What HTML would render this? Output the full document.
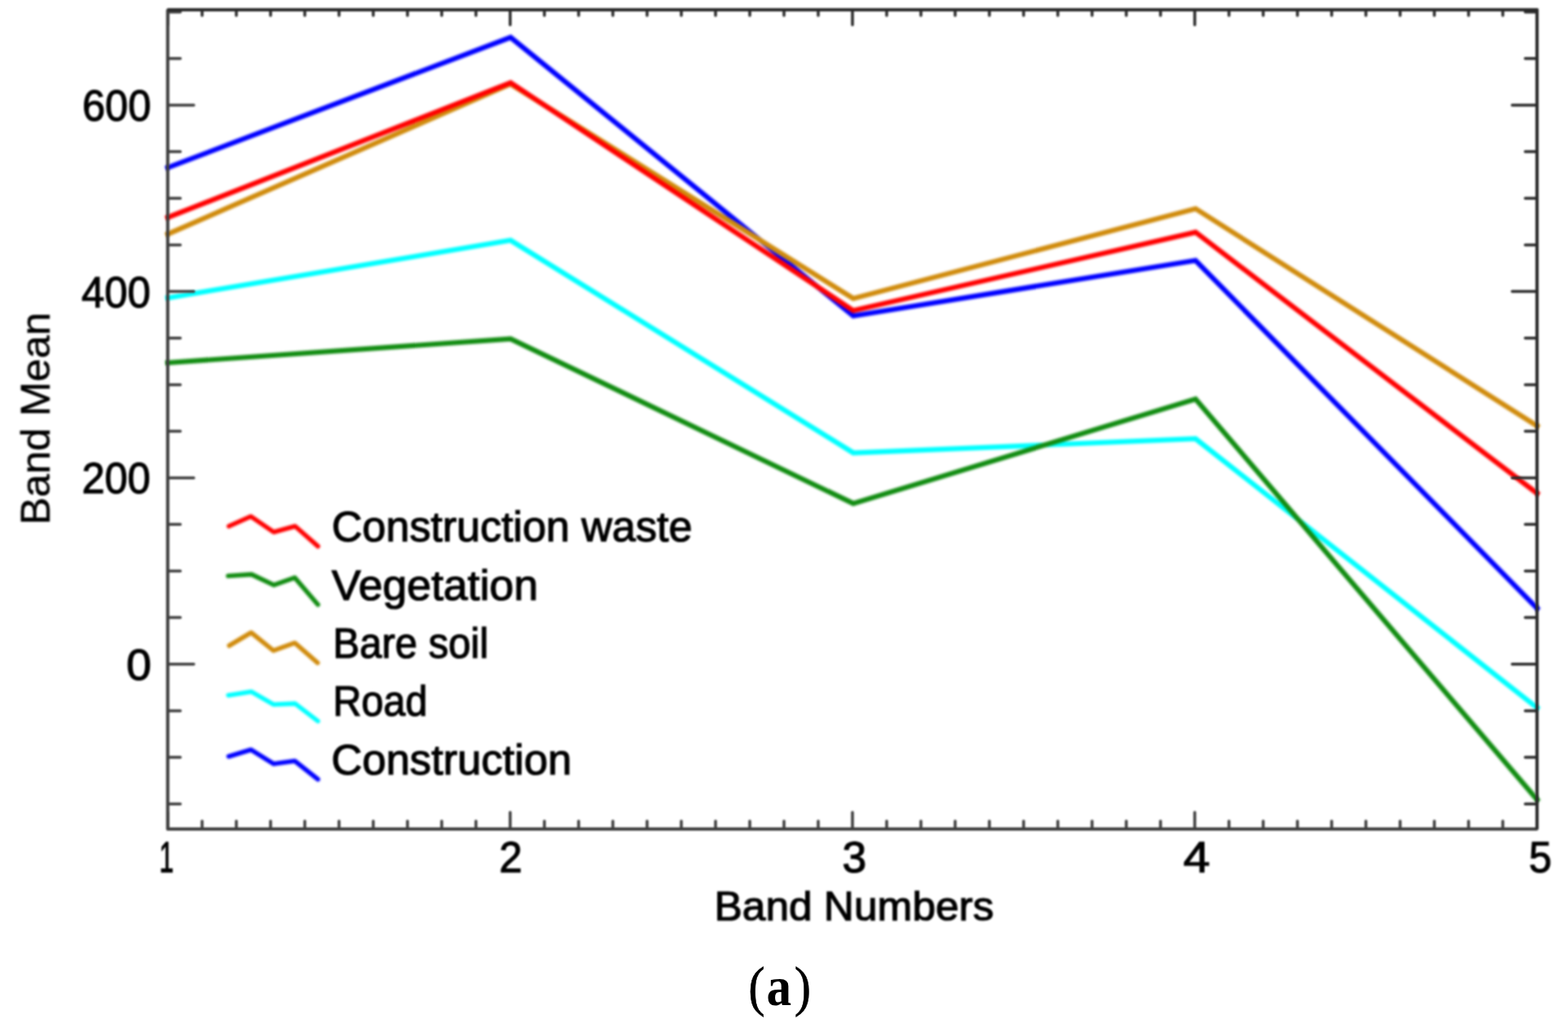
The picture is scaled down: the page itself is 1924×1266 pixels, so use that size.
<!DOCTYPE html>
<html lang="en"><head><meta charset="utf-8"><title>Band Mean vs Band Numbers</title><style>html,body{margin:0;padding:0;background:#fff;overflow:hidden;width:1924px;height:1266px}svg{display:block}</style></head><body>
<svg width="1924" height="1266" viewBox="0 0 1924 1266">
<rect width="1924" height="1266" fill="#fff"/>
<g style="filter:blur(1.5px)">
<g fill="none" stroke-linejoin="miter" stroke-linecap="square" stroke-width="6.2">
<polyline points="206,205.6 626.5,45.8 1047,387.5 1467,319.5 1886,746.2" stroke="#0000ff"/>
<polyline points="206,365.4 626.5,294.8 1047,555.5 1467,538.2 1886,868.2" stroke="#00ffff"/>
<polyline points="206,287.1 626.5,103 1047,366.2 1467,256 1886,522.4" stroke="#d08b0c"/>
<polyline points="206,445 626.5,415.6 1047,617.6 1467,489.5 1886,981" stroke="#118c11"/>
<polyline points="206,266.7 626.5,101.5 1047,381.0 1467,284.9 1886,605.2" stroke="#ff0000"/>
</g>
<g fill="none" stroke-linejoin="round" stroke-linecap="round" stroke-width="5.6">
<polyline points="280.9,645.5 307.8,633.5 335.9,652.7 362.1,645.5 390.1,670.2" stroke="#ff0000"/>
<polyline points="280,706.5 308.6,704.6 336.2,717.7 361.7,708.6 390.1,741.7" stroke="#118c11"/>
<polyline points="281.3,792 308.2,776 335.5,798.2 361.7,788.7 389.7,813.1" stroke="#d08b0c"/>
<polyline points="280.2,852.9 308.6,848.6 335.5,864.2 362.1,863.1 390.1,884.6" stroke="#00ffff"/>
<polyline points="280.6,928 307.8,919.7 335.9,937.1 361.7,933.5 390.1,956" stroke="#0000ff"/>
</g>
</g>
<g style="filter:blur(1.1px)">
<path d="M205.8,986.2h15.5M205.8,929.1h15.5M205.8,871.9h15.5M205.8,814.8h32M205.8,757.6h15.5M205.8,700.5h15.5M205.8,643.3h15.5M205.8,586.2h32M205.8,529.0h15.5M205.8,471.9h15.5M205.8,414.7h15.5M205.8,357.6h32M205.8,300.4h15.5M205.8,243.3h15.5M205.8,186.1h15.5M205.8,129.0h32M205.8,71.8h15.5M205.8,14.7h15.5M206.0,1017v-20.5M248.0,1017v-9.7M290.0,1017v-9.7M332.0,1017v-9.7M374.0,1017v-9.7M416.0,1017v-9.7M458.0,1017v-9.7M500.0,1017v-9.7M542.0,1017v-9.7M584.0,1017v-9.7M626.0,1017v-20.5M668.0,1017v-9.7M710.0,1017v-9.7M752.0,1017v-9.7M794.0,1017v-9.7M836.0,1017v-9.7M878.0,1017v-9.7M920.0,1017v-9.7M962.0,1017v-9.7M1004.0,1017v-9.7M1046.0,1017v-20.5M1088.0,1017v-9.7M1130.0,1017v-9.7M1172.0,1017v-9.7M1214.0,1017v-9.7M1256.0,1017v-9.7M1298.0,1017v-9.7M1340.0,1017v-9.7M1382.0,1017v-9.7M1424.0,1017v-9.7M1466.0,1017v-20.5M1508.0,1017v-9.7M1550.0,1017v-9.7M1592.0,1017v-9.7M1634.0,1017v-9.7M1676.0,1017v-9.7M1718.0,1017v-9.7M1760.0,1017v-9.7M1802.0,1017v-9.7M1844.0,1017v-9.7M1886.0,1017v-20.5" fill="none" stroke="#3e3e3e" stroke-width="3.5" stroke-linecap="round"/>
<path d="M1886,986.2h-14.5M1886,929.1h-14.5M1886,871.9h-14.5M1886,814.8h-30.5M1886,757.6h-14.5M1886,700.5h-14.5M1886,643.3h-14.5M1886,586.2h-30.5M1886,529.0h-14.5M1886,471.9h-14.5M1886,414.7h-14.5M1886,357.6h-30.5M1886,300.4h-14.5M1886,243.3h-14.5M1886,186.1h-14.5M1886,129.0h-30.5M1886,71.8h-14.5M1886,14.7h-14.5M206.0,12.1v18.3M248.0,12.1v6.9M290.0,12.1v6.9M332.0,12.1v6.9M374.0,12.1v6.9M416.0,12.1v6.9M458.0,12.1v6.9M500.0,12.1v6.9M542.0,12.1v6.9M584.0,12.1v6.9M626.0,12.1v18.3M668.0,12.1v6.9M710.0,12.1v6.9M752.0,12.1v6.9M794.0,12.1v6.9M836.0,12.1v6.9M878.0,12.1v6.9M920.0,12.1v6.9M962.0,12.1v6.9M1004.0,12.1v6.9M1046.0,12.1v18.3M1088.0,12.1v6.9M1130.0,12.1v6.9M1172.0,12.1v6.9M1214.0,12.1v6.9M1256.0,12.1v6.9M1298.0,12.1v6.9M1340.0,12.1v6.9M1382.0,12.1v6.9M1424.0,12.1v6.9M1466.0,12.1v18.3M1508.0,12.1v6.9M1550.0,12.1v6.9M1592.0,12.1v6.9M1634.0,12.1v6.9M1676.0,12.1v6.9M1718.0,12.1v6.9M1760.0,12.1v6.9M1802.0,12.1v6.9M1844.0,12.1v6.9M1886.0,12.1v18.3" fill="none" stroke="#2a2a2a" stroke-width="3.5" stroke-linecap="round"/>
<path d="M205.8,12.1V1017H1886" fill="none" stroke="#3e3e3e" stroke-width="4" stroke-linejoin="round"/>
<path d="M205.8,12.1H1886V1017" fill="none" stroke="#2a2a2a" stroke-width="4" stroke-linejoin="round"/>
<g font-family="'Liberation Sans', Arial, sans-serif" fill="#000" stroke="#000" stroke-width="1.2"><text x="101.00" y="147.80" font-size="53.00" textLength="84.23" lengthAdjust="spacingAndGlyphs">600</text><text x="100.00" y="377.10" font-size="53.00" textLength="84.70" lengthAdjust="spacingAndGlyphs">400</text><text x="100.50" y="605.40" font-size="53.00" textLength="84.19" lengthAdjust="spacingAndGlyphs">200</text><text x="155.00" y="833.60" font-size="53.00" textLength="30.74" lengthAdjust="spacingAndGlyphs">0</text><text x="195.50" y="1070.00" font-size="53.00" textLength="17.71" lengthAdjust="spacingAndGlyphs">1</text><text x="612.50" y="1070.00" font-size="53.00" textLength="28.34" lengthAdjust="spacingAndGlyphs">2</text><text x="1033.50" y="1070.00" font-size="53.00" textLength="29.74" lengthAdjust="spacingAndGlyphs">3</text><text x="1452.00" y="1070.00" font-size="53.00" textLength="32.76" lengthAdjust="spacingAndGlyphs">4</text><text x="1876.00" y="1070.00" font-size="53.00" textLength="28.03" lengthAdjust="spacingAndGlyphs">5</text><text x="407.00" y="664.00" font-size="51.00" textLength="442.40" lengthAdjust="spacingAndGlyphs">Construction waste</text><text x="407.00" y="736.00" font-size="51.00" textLength="253.22" lengthAdjust="spacingAndGlyphs">Vegetation</text><text x="408.50" y="806.80" font-size="51.00" textLength="190.91" lengthAdjust="spacingAndGlyphs">Bare soil</text><text x="408.50" y="878.30" font-size="51.00" textLength="115.94" lengthAdjust="spacingAndGlyphs">Road</text><text x="406.50" y="949.90" font-size="51.00" textLength="294.90" lengthAdjust="spacingAndGlyphs">Construction</text><text x="876.50" y="1129.40" font-size="50.00" textLength="342.89" lengthAdjust="spacingAndGlyphs">Band Numbers</text><text transform="translate(60.80,644.00) rotate(-90)" font-size="50.5" stroke-width="0.5" textLength="260.91" lengthAdjust="spacingAndGlyphs">Band Mean</text></g>
</g>
<text transform="translate(0,1232.5) scale(0.9,1)" font-family="'Liberation Serif', 'Times New Roman', serif" font-size="68" fill="#000"><tspan x="1020.22" stroke="#000" stroke-width="0.6">(</tspan><tspan x="1044.89" font-weight="bold">a</tspan><tspan x="1083.11" stroke="#000" stroke-width="0.6">)</tspan></text>
</svg></body></html>
